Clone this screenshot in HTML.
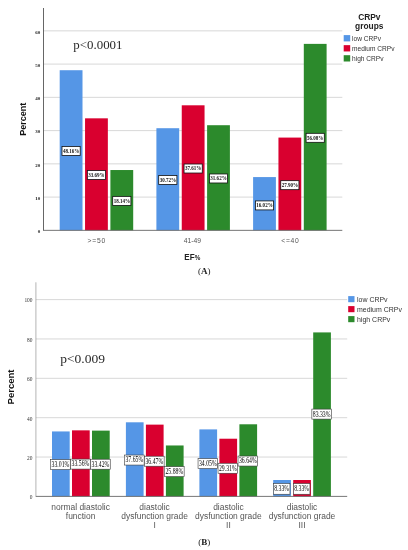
<!DOCTYPE html><html><head><meta charset="utf-8"><title>CRPv groups</title>
<style>html,body{margin:0;padding:0;background:#fff}svg{display:block}.sans{font-family:"Liberation Sans",sans-serif}.serif{font-family:"Liberation Serif",serif}</style></head><body>
<svg width="408" height="550" viewBox="0 0 408 550">
<rect width="408" height="550" fill="#fff"/>
<text x="40.3" y="233.20" text-anchor="end" class="serif" font-size="5" font-weight="bold" fill="#222">0</text>
<line x1="43.5" x2="342.3" y1="197.10" y2="197.10" stroke="#c2c2c2" stroke-width="0.65"/>
<text x="40.3" y="199.95" text-anchor="end" class="serif" font-size="5" font-weight="bold" fill="#222">10</text>
<line x1="43.5" x2="342.3" y1="163.85" y2="163.85" stroke="#c2c2c2" stroke-width="0.65"/>
<text x="40.3" y="166.70" text-anchor="end" class="serif" font-size="5" font-weight="bold" fill="#222">20</text>
<line x1="43.5" x2="342.3" y1="130.60" y2="130.60" stroke="#c2c2c2" stroke-width="0.65"/>
<text x="40.3" y="133.45" text-anchor="end" class="serif" font-size="5" font-weight="bold" fill="#222">30</text>
<line x1="43.5" x2="342.3" y1="97.35" y2="97.35" stroke="#c2c2c2" stroke-width="0.65"/>
<text x="40.3" y="100.20" text-anchor="end" class="serif" font-size="5" font-weight="bold" fill="#222">40</text>
<line x1="43.5" x2="342.3" y1="64.10" y2="64.10" stroke="#c2c2c2" stroke-width="0.65"/>
<text x="40.3" y="66.95" text-anchor="end" class="serif" font-size="5" font-weight="bold" fill="#222">50</text>
<line x1="43.5" x2="342.3" y1="30.85" y2="30.85" stroke="#c2c2c2" stroke-width="0.65"/>
<text x="40.3" y="33.70" text-anchor="end" class="serif" font-size="5" font-weight="bold" fill="#222">60</text>
<rect x="59.70" y="70.22" width="22.8" height="160.13" fill="#5596E6"/>
<rect x="85.05" y="118.33" width="22.8" height="112.02" fill="#D9002F"/>
<rect x="110.40" y="170.03" width="22.8" height="60.32" fill="#2C8A2C"/>
<rect x="156.40" y="128.21" width="22.8" height="102.14" fill="#5596E6"/>
<rect x="181.75" y="105.30" width="22.8" height="125.05" fill="#D9002F"/>
<rect x="207.10" y="125.21" width="22.8" height="105.14" fill="#2C8A2C"/>
<rect x="253.10" y="177.08" width="22.8" height="53.27" fill="#5596E6"/>
<rect x="278.45" y="137.58" width="22.8" height="92.77" fill="#D9002F"/>
<rect x="303.80" y="43.88" width="22.8" height="186.47" fill="#2C8A2C"/>
<line x1="43.5" x2="43.5" y1="8" y2="230.75" stroke="#555" stroke-width="0.9"/>
<line x1="43.5" x2="342.3" y1="230.35" y2="230.35" stroke="#666" stroke-width="0.9"/>
<rect x="62.00" y="146.48" width="18.2" height="9.0" fill="#fff" stroke="#111" stroke-width="0.8"/>
<text transform="translate(71.10,152.78) scale(0.9,1)" text-anchor="middle" class="serif" font-size="5.6" font-weight="bold" fill="#111">48.16%</text>
<rect x="87.35" y="170.54" width="18.2" height="9.0" fill="#fff" stroke="#111" stroke-width="0.8"/>
<text transform="translate(96.45,176.84) scale(0.9,1)" text-anchor="middle" class="serif" font-size="5.6" font-weight="bold" fill="#111">33.69%</text>
<rect x="112.70" y="196.39" width="18.2" height="9.0" fill="#fff" stroke="#111" stroke-width="0.8"/>
<text transform="translate(121.80,202.69) scale(0.9,1)" text-anchor="middle" class="serif" font-size="5.6" font-weight="bold" fill="#111">18.14%</text>
<rect x="158.70" y="175.48" width="18.2" height="9.0" fill="#fff" stroke="#111" stroke-width="0.8"/>
<text transform="translate(167.80,181.78) scale(0.9,1)" text-anchor="middle" class="serif" font-size="5.6" font-weight="bold" fill="#111">30.72%</text>
<rect x="184.05" y="164.02" width="18.2" height="9.0" fill="#fff" stroke="#111" stroke-width="0.8"/>
<text transform="translate(193.15,170.32) scale(0.9,1)" text-anchor="middle" class="serif" font-size="5.6" font-weight="bold" fill="#111">37.61%</text>
<rect x="209.40" y="173.98" width="18.2" height="9.0" fill="#fff" stroke="#111" stroke-width="0.8"/>
<text transform="translate(218.50,180.28) scale(0.9,1)" text-anchor="middle" class="serif" font-size="5.6" font-weight="bold" fill="#111">31.62%</text>
<rect x="255.40" y="200.92" width="18.2" height="9.0" fill="#fff" stroke="#111" stroke-width="0.8"/>
<text transform="translate(264.50,207.22) scale(0.9,1)" text-anchor="middle" class="serif" font-size="5.6" font-weight="bold" fill="#111">16.02%</text>
<rect x="280.75" y="180.67" width="18.2" height="9.0" fill="#fff" stroke="#111" stroke-width="0.8"/>
<text transform="translate(289.85,186.97) scale(0.9,1)" text-anchor="middle" class="serif" font-size="5.6" font-weight="bold" fill="#111">27.90%</text>
<rect x="306.10" y="133.32" width="18.2" height="9.0" fill="#fff" stroke="#111" stroke-width="0.8"/>
<text transform="translate(315.20,139.62) scale(0.9,1)" text-anchor="middle" class="serif" font-size="5.6" font-weight="bold" fill="#111">56.08%</text>
<rect x="70" y="36" width="56" height="18" fill="#fff"/>
<text x="73.3" y="49" class="serif" font-size="12.9" fill="#2a2a2a">p&lt;0.0001</text>
<text transform="translate(26.2,119.2) rotate(-90)" text-anchor="middle" class="sans" font-size="9" font-weight="bold" fill="#111">Percent</text>
<text x="96.8" y="242.9" text-anchor="middle" class="sans" font-size="6.75" letter-spacing="0.75" fill="#555">&gt;=50</text>
<text x="192.5" y="242.9" text-anchor="middle" class="sans" font-size="6.75" letter-spacing="0" fill="#555">41-49</text>
<text x="290.4" y="242.9" text-anchor="middle" class="sans" font-size="6.75" letter-spacing="0.75" fill="#555">&lt;=40</text>
<text transform="translate(184.3,259.9) scale(0.9,1)" class="sans" font-weight="bold" fill="#222"><tspan font-size="9">EF</tspan><tspan font-size="7">%</tspan></text>
<text x="204.3" y="273.8" text-anchor="middle" class="serif" font-size="9" fill="#222">(<tspan font-weight="bold">A</tspan>)</text>
<text x="369.3" y="19.8" text-anchor="middle" class="sans" font-size="8.4" font-weight="bold" fill="#222">CRPv</text>
<text x="369.3" y="28.6" text-anchor="middle" class="sans" font-size="8.4" font-weight="bold" fill="#222">groups</text>
<rect x="343.7" y="35.10" width="6.5" height="6.3" fill="#5596E6"/>
<text transform="translate(352.1,41.10) scale(0.928,1)" class="sans" font-size="7.1" fill="#333">low CRPv</text>
<rect x="343.7" y="45.15" width="6.5" height="6.3" fill="#D9002F"/>
<text transform="translate(352.1,51.15) scale(0.928,1)" class="sans" font-size="7.1" fill="#333">medium CRPv</text>
<rect x="343.7" y="55.20" width="6.5" height="6.3" fill="#2C8A2C"/>
<text transform="translate(352.1,61.20) scale(0.928,1)" class="sans" font-size="7.1" fill="#333">high CRPv</text>
<text x="32.5" y="499.25" text-anchor="end" class="serif" font-size="5.4" fill="#333">0</text>
<line x1="35.9" x2="347.2" y1="457.04" y2="457.04" stroke="#c2c2c2" stroke-width="0.65"/>
<text x="32.5" y="459.89" text-anchor="end" class="serif" font-size="5.4" fill="#333">20</text>
<line x1="35.9" x2="347.2" y1="417.68" y2="417.68" stroke="#c2c2c2" stroke-width="0.65"/>
<text x="32.5" y="420.53" text-anchor="end" class="serif" font-size="5.4" fill="#333">40</text>
<line x1="35.9" x2="347.2" y1="378.32" y2="378.32" stroke="#c2c2c2" stroke-width="0.65"/>
<text x="32.5" y="381.17" text-anchor="end" class="serif" font-size="5.4" fill="#333">60</text>
<line x1="35.9" x2="347.2" y1="338.96" y2="338.96" stroke="#c2c2c2" stroke-width="0.65"/>
<text x="32.5" y="341.81" text-anchor="end" class="serif" font-size="5.4" fill="#333">80</text>
<line x1="35.9" x2="347.2" y1="299.60" y2="299.60" stroke="#c2c2c2" stroke-width="0.65"/>
<text x="32.5" y="302.45" text-anchor="end" class="serif" font-size="5.4" fill="#333">100</text>
<rect x="52.00" y="431.44" width="17.7" height="64.96" fill="#5596E6"/>
<rect x="72.00" y="430.35" width="17.7" height="66.05" fill="#D9002F"/>
<rect x="92.00" y="430.63" width="17.7" height="65.77" fill="#2C8A2C"/>
<rect x="125.90" y="422.30" width="17.7" height="74.10" fill="#5596E6"/>
<rect x="145.90" y="424.63" width="17.7" height="71.77" fill="#D9002F"/>
<rect x="165.90" y="445.47" width="17.7" height="50.93" fill="#2C8A2C"/>
<rect x="199.40" y="429.39" width="17.7" height="67.01" fill="#5596E6"/>
<rect x="219.40" y="438.72" width="17.7" height="57.68" fill="#D9002F"/>
<rect x="239.40" y="424.29" width="17.7" height="72.11" fill="#2C8A2C"/>
<rect x="273.20" y="480.01" width="17.7" height="16.39" fill="#5596E6"/>
<rect x="293.20" y="480.01" width="17.7" height="16.39" fill="#D9002F"/>
<rect x="313.20" y="332.41" width="17.7" height="163.99" fill="#2C8A2C"/>
<line x1="35.9" x2="35.9" y1="282.3" y2="496.79999999999995" stroke="#8c8c8c" stroke-width="0.65"/>
<line x1="35.9" x2="347.2" y1="496.4" y2="496.4" stroke="#666" stroke-width="0.9"/>
<rect x="50.65" y="459.62" width="19.6" height="10" fill="#fff" stroke="#3a3a3a" stroke-width="0.6"/>
<text transform="translate(60.45,467.02) scale(0.79,1)" text-anchor="middle" class="serif" font-size="7.3" fill="#000">33.01%</text>
<rect x="70.65" y="459.08" width="19.6" height="10" fill="#fff" stroke="#3a3a3a" stroke-width="0.6"/>
<text transform="translate(80.45,466.48) scale(0.79,1)" text-anchor="middle" class="serif" font-size="7.3" fill="#000">33.56%</text>
<rect x="90.65" y="459.21" width="19.6" height="10" fill="#fff" stroke="#3a3a3a" stroke-width="0.6"/>
<text transform="translate(100.45,466.61) scale(0.79,1)" text-anchor="middle" class="serif" font-size="7.3" fill="#000">33.42%</text>
<rect x="124.55" y="455.05" width="19.6" height="10" fill="#fff" stroke="#3a3a3a" stroke-width="0.6"/>
<text transform="translate(134.35,462.45) scale(0.79,1)" text-anchor="middle" class="serif" font-size="7.3" fill="#000">37.65%</text>
<rect x="144.55" y="456.21" width="19.6" height="10" fill="#fff" stroke="#3a3a3a" stroke-width="0.6"/>
<text transform="translate(154.35,463.61) scale(0.79,1)" text-anchor="middle" class="serif" font-size="7.3" fill="#000">36.47%</text>
<rect x="164.55" y="466.63" width="19.6" height="10" fill="#fff" stroke="#3a3a3a" stroke-width="0.6"/>
<text transform="translate(174.35,474.03) scale(0.79,1)" text-anchor="middle" class="serif" font-size="7.3" fill="#000">25.88%</text>
<rect x="198.05" y="458.59" width="19.6" height="10" fill="#fff" stroke="#3a3a3a" stroke-width="0.6"/>
<text transform="translate(207.85,465.99) scale(0.79,1)" text-anchor="middle" class="serif" font-size="7.3" fill="#000">34.05%</text>
<rect x="218.05" y="463.26" width="19.6" height="10" fill="#fff" stroke="#3a3a3a" stroke-width="0.6"/>
<text transform="translate(227.85,470.66) scale(0.79,1)" text-anchor="middle" class="serif" font-size="7.3" fill="#000">29.31%</text>
<rect x="238.05" y="456.05" width="19.6" height="10" fill="#fff" stroke="#3a3a3a" stroke-width="0.6"/>
<text transform="translate(247.85,463.45) scale(0.79,1)" text-anchor="middle" class="serif" font-size="7.3" fill="#000">36.64%</text>
<rect x="273.35" y="483.55" width="16.6" height="10.7" fill="#fff" stroke="#3a3a3a" stroke-width="0.6"/>
<text transform="translate(281.65,491.30) scale(0.79,1)" text-anchor="middle" class="serif" font-size="7.3" fill="#000">8.33%</text>
<rect x="293.35" y="483.55" width="16.6" height="10.7" fill="#fff" stroke="#3a3a3a" stroke-width="0.6"/>
<text transform="translate(301.65,491.30) scale(0.79,1)" text-anchor="middle" class="serif" font-size="7.3" fill="#000">8.33%</text>
<rect x="311.85" y="409.10" width="19.6" height="10" fill="#fff" stroke="#3a3a3a" stroke-width="0.6"/>
<text transform="translate(321.65,416.50) scale(0.79,1)" text-anchor="middle" class="serif" font-size="7.3" fill="#000">83.33%</text>
<rect x="56" y="349" width="54" height="20" fill="#fff"/>
<text x="60.2" y="363.1" class="serif" font-size="13.5" fill="#2a2a2a">p&lt;0.009</text>
<text transform="translate(14.4,387) rotate(-90)" text-anchor="middle" class="sans" font-size="9.5" font-weight="bold" fill="#111">Percent</text>
<text x="80.6" y="509.60" text-anchor="middle" class="sans" font-size="8.45" fill="#555">normal diastolic</text>
<text x="80.6" y="518.60" text-anchor="middle" class="sans" font-size="8.45" fill="#555">function</text>
<text x="154.6" y="509.60" text-anchor="middle" class="sans" font-size="8.45" fill="#555">diastolic</text>
<text x="154.6" y="518.60" text-anchor="middle" class="sans" font-size="8.45" fill="#555">dysfunction grade</text>
<text x="154.6" y="527.60" text-anchor="middle" class="sans" font-size="8.45" fill="#555">I</text>
<text x="228.4" y="509.60" text-anchor="middle" class="sans" font-size="8.45" fill="#555">diastolic</text>
<text x="228.4" y="518.60" text-anchor="middle" class="sans" font-size="8.45" fill="#555">dysfunction grade</text>
<text x="228.4" y="527.60" text-anchor="middle" class="sans" font-size="8.45" fill="#555">II</text>
<text x="302" y="509.60" text-anchor="middle" class="sans" font-size="8.45" fill="#555">diastolic</text>
<text x="302" y="518.60" text-anchor="middle" class="sans" font-size="8.45" fill="#555">dysfunction grade</text>
<text x="302" y="527.60" text-anchor="middle" class="sans" font-size="8.45" fill="#555">III</text>
<text x="204.3" y="544.6" text-anchor="middle" class="serif" font-size="9" fill="#222">(<tspan font-weight="bold">B</tspan>)</text>
<rect x="348.2" y="296.10" width="6.3" height="6.1" fill="#5596E6"/>
<text transform="translate(357,301.90) scale(0.93,1)" class="sans" font-size="7.5" fill="#333">low CRPv</text>
<rect x="348.2" y="306.10" width="6.3" height="6.1" fill="#D9002F"/>
<text transform="translate(357,311.90) scale(0.93,1)" class="sans" font-size="7.5" fill="#333">medium CRPv</text>
<rect x="348.2" y="316.10" width="6.3" height="6.1" fill="#2C8A2C"/>
<text transform="translate(357,321.90) scale(0.93,1)" class="sans" font-size="7.5" fill="#333">high CRPv</text>
</svg></body></html>
